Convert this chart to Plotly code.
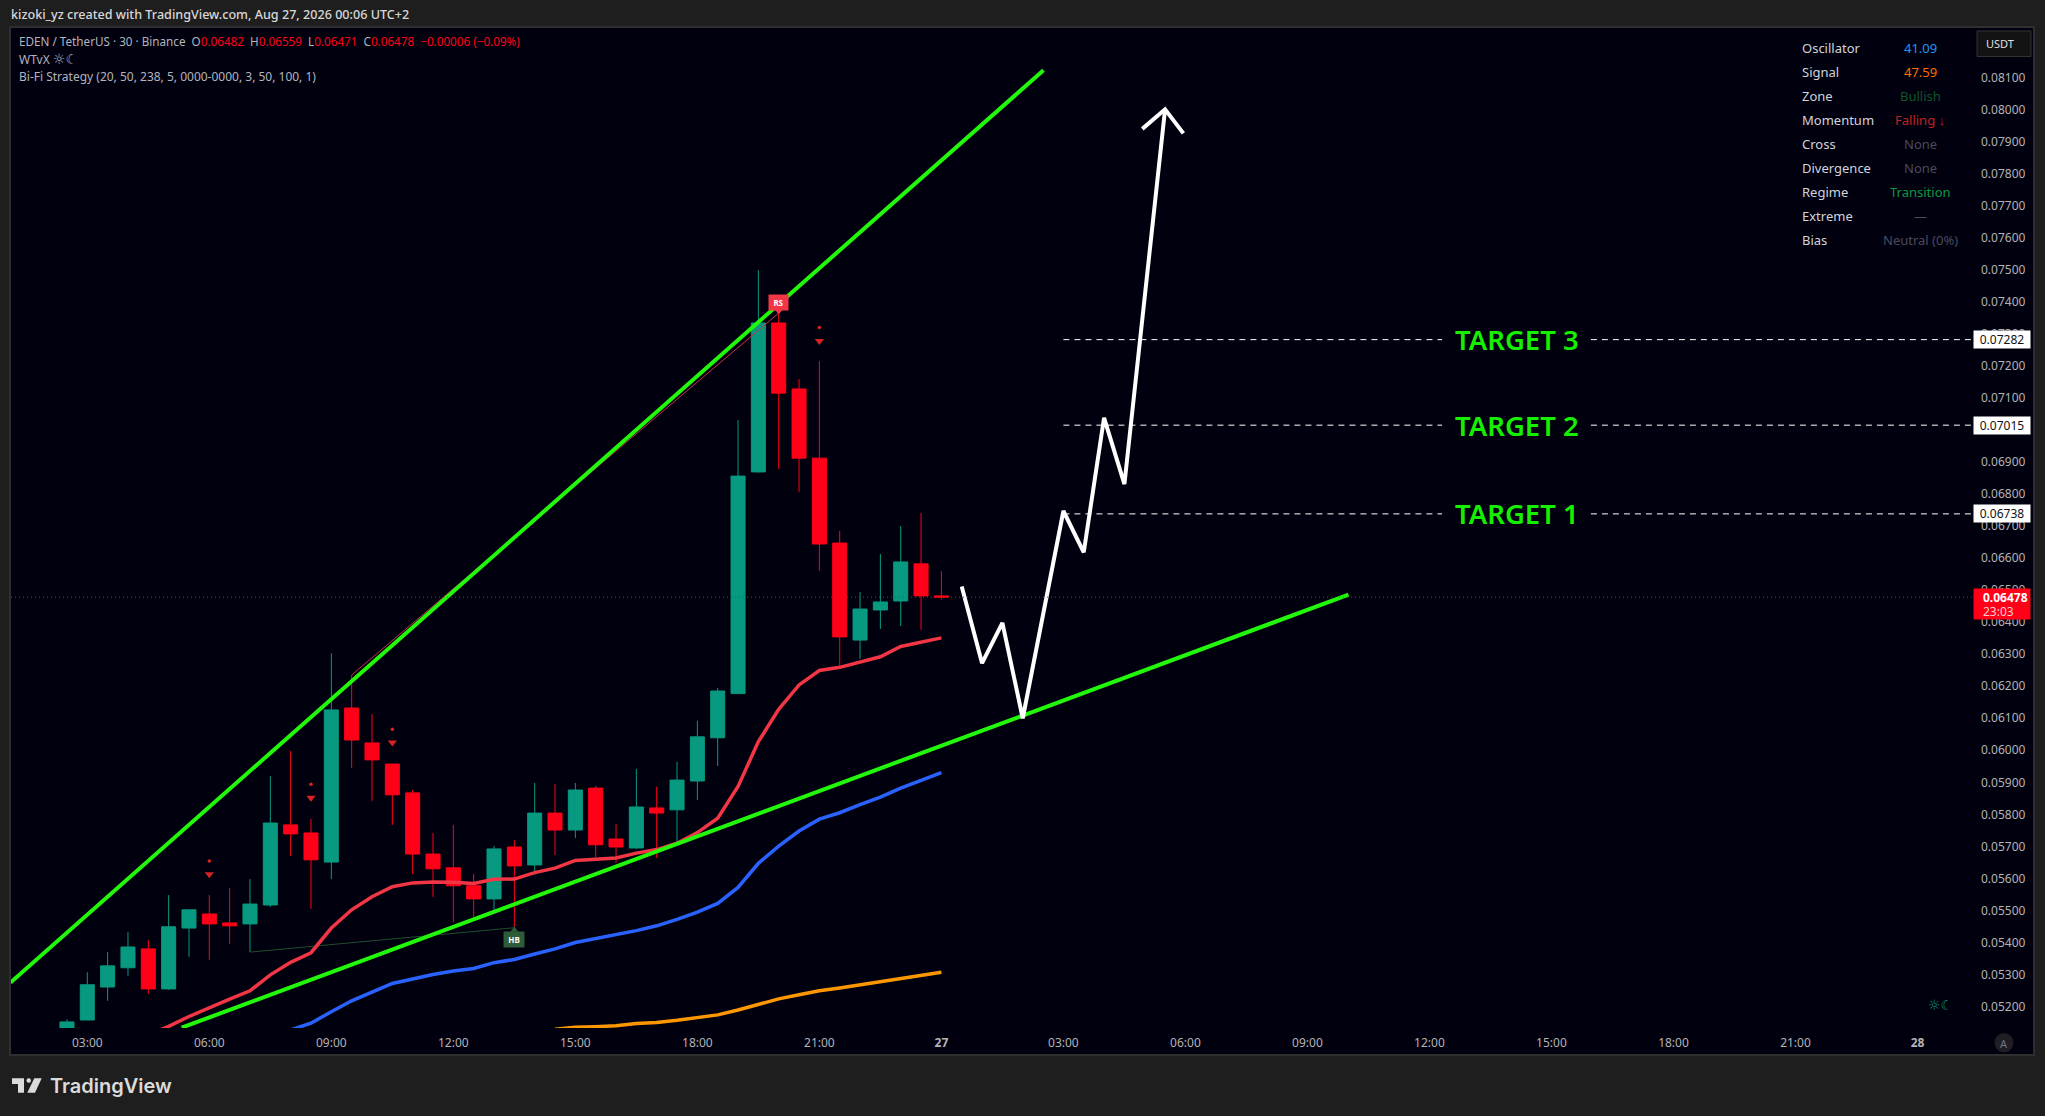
# EDEN / USDT 30m chart, TradingView dark layout
import plotly.graph_objects as go

# candles, hours since Aug 26 00:00 (24 = the "27" tick)
bar_hours = [2.5 + 0.5 * i for i in range(44)]
opens = [0.05130, 0.05158, 0.05261, 0.05321, 0.05380, 0.05255, 0.05445, 0.05489, 0.05461, 0.05458, 0.05517,
         0.05767, 0.05742, 0.05651, 0.06132, 0.06023, 0.05957, 0.05867, 0.05676, 0.05633, 0.05577, 0.05536,
         0.05698, 0.05642, 0.05804, 0.05751, 0.05882, 0.05723, 0.05695, 0.05820, 0.05814, 0.05904, 0.06039,
         0.06177, 0.06869, 0.07334, 0.07128, 0.06912, 0.06647, 0.06344, 0.06438, 0.06466, 0.06582, 0.06482]
highs = [0.05160, 0.05307, 0.05370, 0.05432, 0.05408, 0.05548, 0.05502, 0.05548, 0.05570, 0.05598, 0.05920,
         0.05998, 0.05786, 0.06303, 0.06235, 0.06113, 0.05957, 0.05876, 0.05742, 0.05767, 0.05614, 0.05701,
         0.05720, 0.05898, 0.05895, 0.05898, 0.05889, 0.05770, 0.05942, 0.05886, 0.05964, 0.06092, 0.06195,
         0.07031, 0.07499, 0.07364, 0.07159, 0.07215, 0.06685, 0.06494, 0.06613, 0.06700, 0.06741, 0.06559]
lows = [0.05120, 0.05158, 0.05218, 0.05296, 0.05239, 0.05252, 0.05355, 0.05346, 0.05396, 0.05370, 0.05511,
        0.05670, 0.05505, 0.05598, 0.05945, 0.05842, 0.05767, 0.05614, 0.05542, 0.05464, 0.05480, 0.05491,
        0.05447, 0.05612, 0.05673, 0.05726, 0.05666, 0.05648, 0.05692, 0.05664, 0.05705, 0.05845, 0.05951,
        0.06177, 0.06867, 0.06878, 0.06806, 0.06560, 0.06265, 0.06285, 0.06379, 0.06388, 0.06376, 0.06471]
closes = [0.05152, 0.05268, 0.05327, 0.05386, 0.05255, 0.05449, 0.05502, 0.05458, 0.05452, 0.05520, 0.05773,
          0.05739, 0.05658, 0.06126, 0.06032, 0.05970, 0.05861, 0.05676, 0.05630, 0.05577, 0.05536, 0.05692,
          0.05639, 0.05804, 0.05751, 0.05876, 0.05705, 0.05698, 0.05823, 0.05804, 0.05907, 0.06042, 0.06185,
          0.06856, 0.07334, 0.07115, 0.06912, 0.06644, 0.06354, 0.06441, 0.06463, 0.06588, 0.06482, 0.06478]

# moving averages, one value per half hour from their first visible bar
red_ma_hours = [4.5 + 0.5 * i for i in range(40)]
red_ma = [0.05112, 0.05138, 0.05169, 0.05197, 0.05223, 0.05249, 0.05299, 0.05338, 0.05368, 0.05445, 0.05502,
          0.05543, 0.05574, 0.05586, 0.05589, 0.05588, 0.05584, 0.05597, 0.05598, 0.05618, 0.05632, 0.05656,
          0.05659, 0.05664, 0.05679, 0.05690, 0.05710, 0.05743, 0.05788, 0.05887, 0.06027, 0.06128, 0.06204,
          0.06249, 0.06259, 0.06275, 0.06292, 0.06324, 0.06337, 0.06351]
blue_ma_hours = [8.0 + 0.5 * i for i in range(33)]
blue_ma = [0.05127, 0.05148, 0.05184, 0.05218, 0.05245, 0.05272, 0.05286, 0.05300, 0.05311, 0.05319, 0.05337,
           0.05347, 0.05364, 0.05380, 0.05400, 0.05412, 0.05423, 0.05437, 0.05452, 0.05472, 0.05495, 0.05522,
           0.05572, 0.05647, 0.05701, 0.05748, 0.05785, 0.05805, 0.05830, 0.05854, 0.05882, 0.05906, 0.05930]
orange_ma_hours = [14.5 + 0.5 * i for i in range(20)]
orange_ma = [0.05129, 0.05135, 0.05137, 0.05140, 0.05147, 0.05150, 0.05157, 0.05166, 0.05174, 0.05189, 0.05207,
             0.05224, 0.05237, 0.05249, 0.05258, 0.05268, 0.05277, 0.05287, 0.05298, 0.05307]

# hand drawn lines
upper_trend_hours = [1.112, 26.51]
upper_trend_prices = [0.05275, 0.08123]
lower_trend_hours = [5.32, 34.01]
lower_trend_prices = [0.05134, 0.06486]
path_hours = [24.5, 25, 25.5, 26, 27, 27.5, 28, 28.5, 29.5]
path_prices = [0.06511, 0.06272, 0.06398, 0.06100, 0.06747, 0.06618, 0.07038, 0.06831, 0.08001]
arrow_hours = [28.94, 29.5, 29.95]
arrow_prices = [0.07940, 0.08001, 0.07926]
target_names = ["TARGET 1", "TARGET 2", "TARGET 3"]
target_prices = [0.06738, 0.07015, 0.07282]
target_labels = ["0.06738", "0.07015", "0.07282"]
last_price = 0.06478

# indicator marks
signal_hours = [6.0, 8.5, 10.5, 21.0]
signal_tri_prices = [0.05613, 0.05852, 0.06024, 0.07278]
signal_dot_prices = [0.05654, 0.05894, 0.06066, 0.07320]
rs_line_hours = [9.5, 20.0]
rs_line_prices = [0.06235, 0.07365]
hb_line_hours = [7.0, 13.5]
hb_line_prices = [0.05370, 0.05446]

x_tick_hours = [3, 6, 9, 12, 15, 18, 21, 24, 27, 30, 33, 36, 39, 42, 45, 48]
x_tick_labels = ["03:00", "06:00", "09:00", "12:00", "15:00", "18:00", "21:00", "<b>27</b>",
                 "03:00", "06:00", "09:00", "12:00", "15:00", "18:00", "21:00", "<b>28</b>"]
y_ticks = [0.052, 0.053, 0.054, 0.055, 0.056, 0.057, 0.058, 0.059, 0.060, 0.061, 0.062, 0.063, 0.064, 0.065, 0.066,
           0.067, 0.068, 0.069, 0.070, 0.071, 0.072, 0.073, 0.074, 0.075, 0.076, 0.077, 0.078, 0.079, 0.080, 0.081]

table_names = ["Oscillator", "Signal", "Zone", "Momentum", "Cross", "Divergence", "Regime", "Extreme", "Bias"]
table_values = ["41.09", "47.59", "Bullish", "Falling ↓", "None", "None", "Transition", "—", "Neutral (0%)"]
table_colors = ["#2196f3", "#ff6d00", "#11552b", "#c62020", "#4b4b5c", "#4b4b5c", "#0a9a44", "#4b4b5c", "#4b4b5c"]

FONT = "Noto Sans"
BG = "#01000f"
PAPER = "#1e1e1e"
BULL = "#089981"
BEAR = "#ff0018"
LIME = "#22f80a"
PLOT_L, PLOT_R, PLOT_T, PLOT_B = 11, 1972, 27, 1028


def px_x(px):
    return (px - PLOT_L) / (PLOT_R - PLOT_L)


def px_y(py):
    return 1 - (py - PLOT_T) / (PLOT_B - PLOT_T)


def line_trace(xs, ys, color, width, dash="solid"):
    return go.Scatter(x=xs, y=ys, mode="lines", line={"color": color, "width": width, "dash": dash},
                      hoverinfo="skip", showlegend=False)


def poly(points):
    # closed svg path in paper coordinates from pixel points
    cmds = [f"{'M' if i == 0 else 'L'} {px_x(x):.5f} {px_y(y):.5f}" for i, (x, y) in enumerate(points)]
    return " ".join(cmds) + " Z"


fig = go.Figure()

fig.add_trace(go.Candlestick(
    x=bar_hours, open=opens, high=highs, low=lows, close=closes,
    increasing={"line": {"color": BULL, "width": 1}, "fillcolor": BULL},
    decreasing={"line": {"color": BEAR, "width": 1}, "fillcolor": BEAR},
    whiskerwidth=0, hoverinfo="skip", showlegend=False,
))

fig.add_trace(line_trace(rs_line_hours, rs_line_prices, "#c8324a", 1))
fig.add_trace(line_trace(hb_line_hours, hb_line_prices, "#1f4d2b", 1))
fig.add_trace(line_trace(red_ma_hours, red_ma, "#f23645", 3.5))
fig.add_trace(line_trace(blue_ma_hours, blue_ma, "#2962ff", 3.5))
fig.add_trace(line_trace(orange_ma_hours, orange_ma, "#ff9800", 3.5))
fig.add_trace(line_trace(upper_trend_hours, upper_trend_prices, LIME, 4))
fig.add_trace(line_trace(lower_trend_hours, lower_trend_prices, LIME, 4))
fig.add_trace(line_trace(path_hours, path_prices, "#ffffff", 4))
fig.add_trace(line_trace(arrow_hours, arrow_prices, "#ffffff", 4))
fig.add_trace(line_trace([1.124, 49.34], [last_price, last_price], BEAR, 1, "1px,3px"))

# dashed target lines, broken where the label sits
for price in target_prices:
    fig.add_trace(line_trace([27, 36.31, None, 39.97, 49.34], [price, price, None, price, price],
                             "#ffffff", 1, "6px,5px"))

fig.add_trace(go.Scatter(x=signal_hours, y=signal_tri_prices, mode="markers",
                         marker={"symbol": "triangle-down", "size": 8, "color": "#d92323"},
                         hoverinfo="skip", showlegend=False))
fig.add_trace(go.Scatter(x=signal_hours, y=signal_dot_prices, mode="markers",
                         marker={"symbol": "circle", "size": 3.5, "color": "#d92323"},
                         hoverinfo="skip", showlegend=False))
fig.add_trace(go.Scatter(x=[20.0], y=[0.07371], mode="markers",
                         marker={"symbol": "triangle-down", "size": 7, "color": "#f23645"},
                         hoverinfo="skip", showlegend=False))
fig.add_trace(go.Scatter(x=[13.5], y=[0.05439], mode="markers",
                         marker={"symbol": "triangle-up", "size": 7, "color": "#2c5c38"},
                         hoverinfo="skip", showlegend=False))

notes = []


def add_text(px, py, text, size, color, anchor="left", **kw):
    notes.append(dict(xref="paper", yref="paper", x=px_x(px), y=px_y(py), text=text, showarrow=False,
                      xanchor=anchor, yanchor="middle", align=kw.pop("align", anchor),
                      font={"family": kw.pop("family", FONT), "size": size, "color": color,
                            "weight": kw.pop("weight", "normal")}, **kw))


add_text(9, 14, "kizoki_yz created with TradingView.com, Aug 27, 2026 00:06 UTC+2", 12.6, "#d8d8d8", weight=500)

red = "<span style='color:#ff0018'>{}</span>"
ohlc_text = ("EDEN / TetherUS · 30 · Binance  O" + red.format("0.06482") + "  H" + red.format("0.06559")
             + "  L" + red.format("0.06471") + "  C" + red.format("0.06478") + "  "
             + red.format("−0.00006 (−0.09%)"))
add_text(17, 41, ohlc_text, 11.7, "#b2b5be")
add_text(17, 59, "WTvX <span style='font-family:DejaVu Sans;font-size:14px'>☼☾</span>", 12, "#b2b5be")
add_text(17, 76, "Bi-Fi Strategy (20, 50, 238, 5, 0000-0000, 3, 50, 100, 1)", 12, "#b2b5be")

for i, name in enumerate(table_names):
    row_y = 48.3 + 24 * i
    add_text(1800, row_y, name, 13, "#d1d4dc")
    add_text(1920, row_y, table_values[i], 13, table_colors[i], anchor="center")

add_text(2000, 44, "USDT", 11, "#e0e0e0", anchor="center")
add_text(2004, 1043, "A", 11, "#77777f", anchor="center")
add_text(1940, 1005, "☼☾", 14, BULL, anchor="center", family="DejaVu Sans")
add_text(48, 1086, "TradingView", 20, "#dbdbdb", weight=600, family="Inter")

for name, price, label in zip(target_names, target_prices, target_labels):
    notes.append(dict(xref="x", yref="y", x=38.16, y=price, text=name, showarrow=False,
                      font={"family": FONT, "size": 27.5, "color": "#16f000", "weight": 600}))
    notes.append(dict(xref="paper", yref="y", x=px_x(2002), y=price, text=label, showarrow=False,
                      xanchor="center", bgcolor="#ffffff", width=56, height=17, borderpad=0,
                      font={"family": FONT, "size": 12, "color": "#111111"}))

# last price box, then its two lines on top so they can sit left aligned
add_text(2002, 604, "&nbsp;", 12, "#ffffff", anchor="center", bgcolor=BEAR, width=56, height=30, borderpad=0)
add_text(1981, 597.5, "<b>0.06478</b>", 12, "#ffffff")
add_text(1981, 611, "23:03", 12, "#ffc9cf")

notes.append(dict(xref="x", yref="y", x=20.0, y=0.07365, yshift=10.5, text="<b>RS</b>", showarrow=False,
                  bgcolor="#f23645", width=19, height=15, borderpad=0,
                  font={"family": FONT, "size": 8, "color": "#ffffff"}))
notes.append(dict(xref="x", yref="y", x=13.5, y=0.05446, yshift=-12, text="<b>HB</b>", showarrow=False,
                  bgcolor="#2c5c38", width=20, height=15, borderpad=0,
                  font={"family": FONT, "size": 8, "color": "#ffffff"}))

shapes = [
    # chart frame, goes under the plot
    dict(type="rect", xref="paper", yref="paper", layer="below",
         x0=px_x(10), x1=px_x(2034), y0=px_y(1055), y1=px_y(27),
         fillcolor=BG, line={"color": "#2f2f2f", "width": 2}),
    dict(type="rect", xref="paper", yref="paper", layer="below",
         x0=px_x(1977), x1=px_x(2031), y0=px_y(56.5), y1=px_y(31),
         fillcolor="#131313", line={"color": "#333333", "width": 1}),
    dict(type="circle", xref="paper", yref="paper", layer="below",
         x0=px_x(1994.5), x1=px_x(2013.5), y0=px_y(1052.5), y1=px_y(1033),
         fillcolor="#1e1e24", line={"width": 0}),
    # TradingView logo
    dict(type="path", xref="paper", yref="paper", layer="below", line={"width": 0}, fillcolor="#dbdbdb",
         path=poly([(12, 1078.3), (24, 1078.3), (24, 1092.7), (18, 1092.7), (18, 1084), (12, 1084)])),
    dict(type="path", xref="paper", yref="paper", layer="below", line={"width": 0}, fillcolor="#dbdbdb",
         path=poly([(34.3, 1078.3), (41.7, 1078.3), (35, 1092.7), (27.3, 1092.7)])),
    dict(type="circle", xref="paper", yref="paper", layer="below",
         x0=px_x(26.5), x1=px_x(31), y0=px_y(1082.7), y1=px_y(1078.2),
         fillcolor="#dbdbdb", line={"width": 0}),
]

fig.update_layout(
    width=2045,
    height=1116,
    margin={"l": PLOT_L, "r": 2045 - PLOT_R, "t": PLOT_T, "b": 1116 - PLOT_B},
    paper_bgcolor=PAPER,
    plot_bgcolor=BG,
    boxgap=0.31,
    boxgroupgap=0,
    showlegend=False,
    shapes=shapes,
    annotations=notes,
    xaxis={
        "range": [1.124, 49.34],
        "tickvals": x_tick_hours,
        "ticktext": x_tick_labels,
        "showgrid": False,
        "zeroline": False,
        "showline": False,
        "ticks": "",
        "ticklabelstandoff": 6,
        "rangeslider": {"visible": False},
        "tickfont": {"family": FONT, "size": 12, "color": "#b4b4b4"},
    },
    yaxis={
        "range": [0.05133, 0.08258],
        "side": "right",
        "tickvals": y_ticks,
        "tickformat": ".5f",
        "showgrid": False,
        "zeroline": False,
        "showline": False,
        "ticks": "",
        "ticklabelstandoff": 8,
        "tickfont": {"family": FONT, "size": 12, "color": "#b4b4b4"},
    },
)

fig.write_html("out.html", config={"displayModeBar": False},
               post_script="document.body.style.margin='0';document.body.style.overflow='hidden';")
